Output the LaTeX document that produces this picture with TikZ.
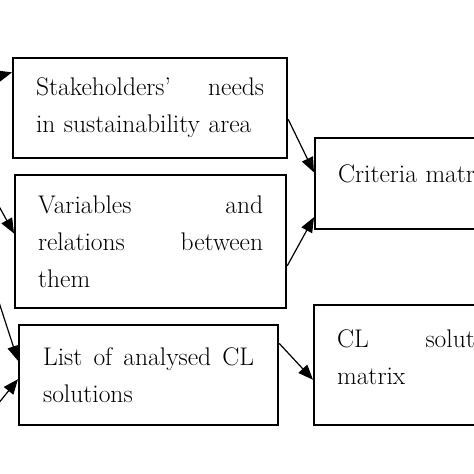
\documentclass[tikz,border=0pt]{standalone}
\usepackage{amsmath,amssymb}
\usepackage{fontspec}
\usetikzlibrary{arrows.meta,calc}

\tikzset{
  stepbox/.style={draw, line width=2.2pt, fill=white, anchor=north west,
    inner xsep=23pt, inner ysep=0pt, align=left,
    font=\fontsize{25.5}{37}\selectfont},
  link/.style={line width=1.2pt, -{Triangle[length=15pt,width=12pt]}}
}

\begin{document}
\begin{tikzpicture}[x=1pt,y=-1pt]
\useasboundingbox (0,0) rectangle (474,474);

\node [stepbox, text width=228pt, minimum width=274pt, minimum height=100pt] (needs) at (12,57) {Stakeholders'\hfill needs\\in sustainability area};
\node [stepbox, text width=225pt, minimum width=271pt, minimum height=133pt] (vars) at (14,174) {Variables\hfill and\\relations\hfill between\\them};
\node [stepbox, text width=211pt, minimum width=259pt, minimum height=100pt] (list) at (18,324) {List\hfill of\hfill analysed\hfill CL\\solutions};

\node [stepbox, text width=200pt, minimum width=246pt, minimum height=91pt, text depth=20pt] (crit) at (314,137) {Criteria matrix};
\node [stepbox, text width=178pt, minimum width=224pt, minimum height=120pt, text depth=53pt] (solmat) at (313,304) {CL\hfill solutions\\matrix};

\coordinate (inA) at (-30,84);
\coordinate (inB) at (-10,190);
\coordinate (inC) at (-5,290);
\coordinate (inD) at (-15,420);

\draw [link] (inA) -- ($(needs.north west)!0.15!(needs.south west)$);
\draw [link] (inB) -- ($(vars.north west)!0.44!(vars.south west)$);
\draw [link] (inC) -- ($(list.north west)!0.36!(list.south west)$);
\draw [link] (inD) -- ($(list.north west)!0.54!(list.south west)$);

\draw [link] ($(needs.north east)!0.61!(needs.south east)$) -- ($(crit.north west)!0.38!(crit.south west)$);
\draw [link] ($(vars.north east)!0.68!(vars.south east)$) -- ($(crit.north west)!0.86!(crit.south west)$);
\draw [link] ($(list.north east)!0.19!(list.south east)$) -- ($(solmat.north west)!0.62!(solmat.south west)$);
\end{tikzpicture}
\end{document}
